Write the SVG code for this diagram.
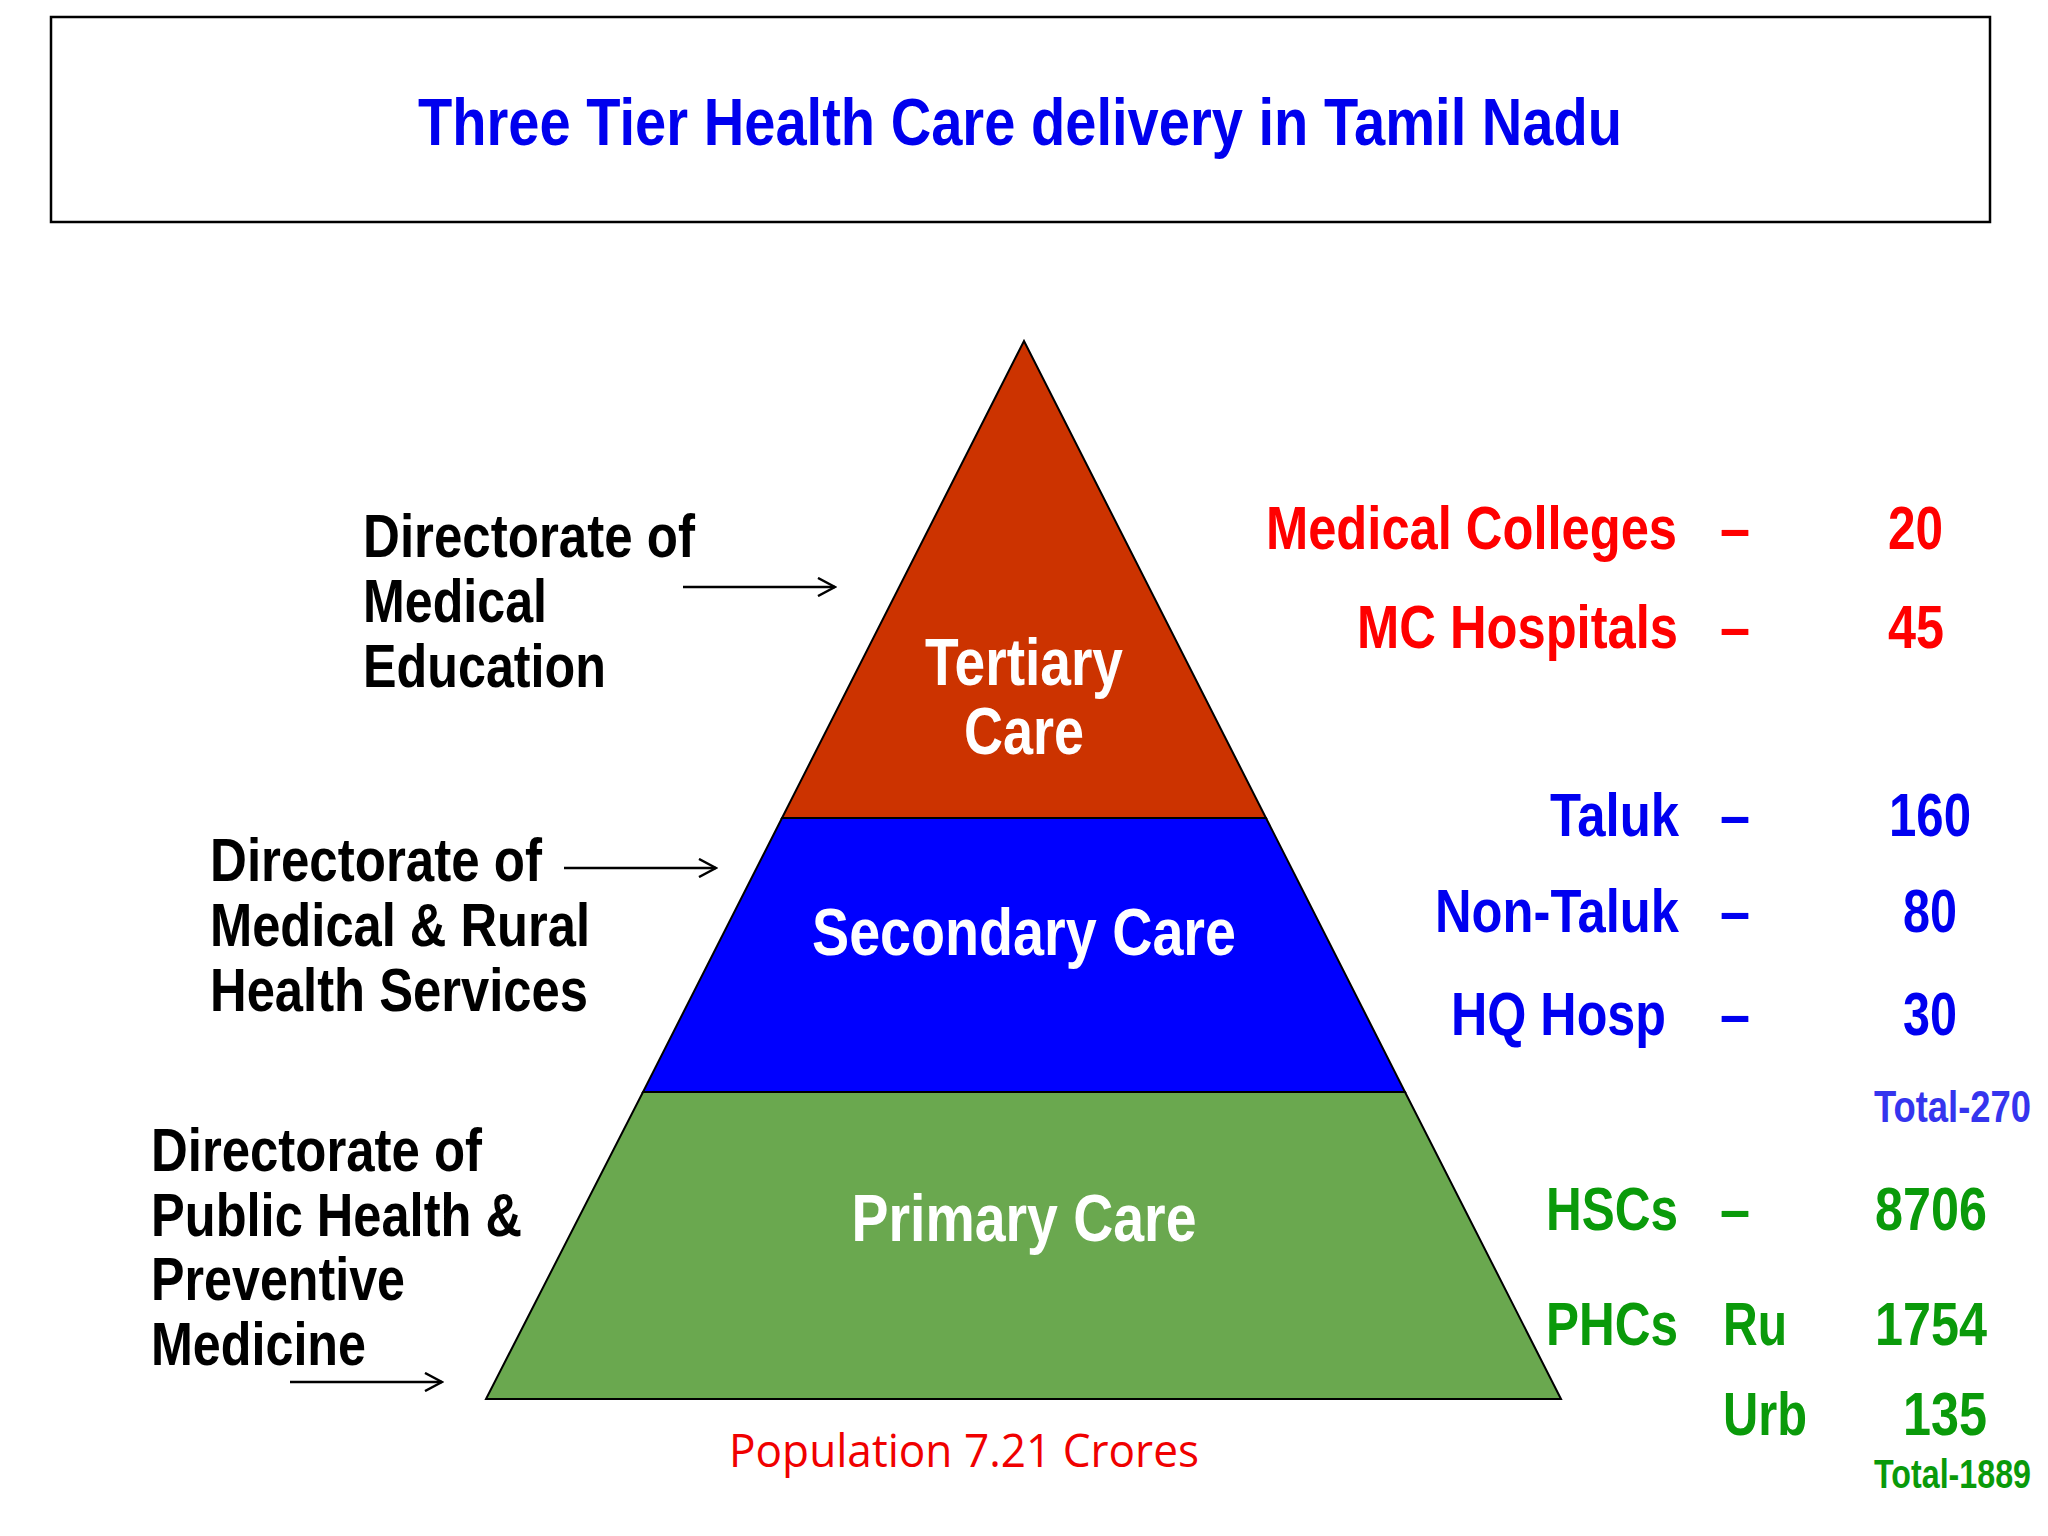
<svg xmlns="http://www.w3.org/2000/svg" width="2048" height="1536" viewBox="0 0 2048 1536">
<style>
.b{font-family:'Liberation Sans Narrow','Liberation Sans',Arial,sans-serif;font-weight:bold;}
.lbl{font-size:62px;fill:#000;}
.tier{font-size:66px;fill:#fff;text-anchor:middle;}
.red{font-size:62px;fill:#FF0000;}
.blue{font-size:62px;fill:#0000F0;}
.green{font-size:62px;fill:#0A9A0A;}
.arrow{stroke:#000;stroke-width:2.5;fill:none;}
</style>
<defs>
<marker id="ah" markerWidth="20" markerHeight="20" refX="18" refY="10" orient="auto" markerUnits="userSpaceOnUse">
<path d="M1,1 L18,10 L1,19" fill="none" stroke="#000" stroke-width="2.5"/>
</marker>
</defs>
<rect width="2048" height="1536" fill="#fff"/>
<g id="title">
<rect x="51" y="17" width="1939" height="205" fill="#fff" stroke="#000" stroke-width="2.5"/>
<text class="b" x="418" y="145" font-size="67" fill="#0000EE" textLength="1204" lengthAdjust="spacingAndGlyphs">Three Tier Health Care delivery in Tamil Nadu</text>
</g>
<g id="tertiary">
<polygon points="1024,341 782,818 1266,818" fill="#CC3300" stroke="#000" stroke-width="2"/>
<text class="b tier" x="1024" y="685" textLength="198" lengthAdjust="spacingAndGlyphs">Tertiary</text>
<text class="b tier" x="1024" y="754" textLength="120" lengthAdjust="spacingAndGlyphs">Care</text>
</g>
<g id="secondary">
<polygon points="782,818 1266,818 1405,1092 643,1092" fill="#0000FF" stroke="#000" stroke-width="2"/>
<text class="b tier" x="1024" y="955" textLength="424" lengthAdjust="spacingAndGlyphs">Secondary Care</text>
</g>
<g id="primary">
<polygon points="643,1092 1405,1092 1561,1399 486,1399" fill="#6AA84F" stroke="#000" stroke-width="2"/>
<text class="b tier" x="1024" y="1241" textLength="345" lengthAdjust="spacingAndGlyphs">Primary Care</text>
</g>
<g id="dme">
<text class="b lbl" x="363" y="557" textLength="332" lengthAdjust="spacingAndGlyphs">Directorate of</text>
<text class="b lbl" x="363" y="622" textLength="184" lengthAdjust="spacingAndGlyphs">Medical</text>
<text class="b lbl" x="363" y="687" textLength="243" lengthAdjust="spacingAndGlyphs">Education</text>
</g>
<g id="dmrhs">
<text class="b lbl" x="210" y="881" textLength="332" lengthAdjust="spacingAndGlyphs">Directorate of</text>
<text class="b lbl" x="210" y="946" textLength="380" lengthAdjust="spacingAndGlyphs">Medical &amp; Rural</text>
<text class="b lbl" x="210" y="1011" textLength="378" lengthAdjust="spacingAndGlyphs">Health Services</text>
</g>
<g id="dphpm">
<text class="b lbl" x="151" y="1171" textLength="331" lengthAdjust="spacingAndGlyphs">Directorate of</text>
<text class="b lbl" x="151" y="1236" textLength="371" lengthAdjust="spacingAndGlyphs">Public Health &amp;</text>
<text class="b lbl" x="151" y="1300" textLength="254" lengthAdjust="spacingAndGlyphs">Preventive</text>
<text class="b lbl" x="151" y="1365" textLength="215" lengthAdjust="spacingAndGlyphs">Medicine</text>
</g>
<g id="connectors">
<line class="arrow" x1="683" y1="587" x2="835" y2="587" marker-end="url(#ah)"/>
<line class="arrow" x1="564" y1="868" x2="716" y2="868" marker-end="url(#ah)"/>
<line class="arrow" x1="290" y1="1382" x2="442" y2="1382" marker-end="url(#ah)"/>
</g>
<g id="population">
<text x="729" y="1467" font-family="'Open Sans','Liberation Sans',sans-serif" font-size="45" fill="#F00000" textLength="470" lengthAdjust="spacingAndGlyphs">Population 7.21 Crores</text>
</g>
<g id="tertiary-stats">
<text class="b red" x="1266" y="549" textLength="411" lengthAdjust="spacingAndGlyphs">Medical Colleges</text>
<text class="b red" x="1720" y="549" textLength="30" lengthAdjust="spacingAndGlyphs">–</text>
<text class="b red" x="1888" y="549" textLength="55" lengthAdjust="spacingAndGlyphs">20</text>
<text class="b red" x="1357" y="648" textLength="321" lengthAdjust="spacingAndGlyphs">MC Hospitals</text>
<text class="b red" x="1720" y="648" textLength="30" lengthAdjust="spacingAndGlyphs">–</text>
<text class="b red" x="1888" y="648" textLength="56" lengthAdjust="spacingAndGlyphs">45</text>
</g>
<g id="secondary-stats">
<text class="b blue" x="1550" y="836" textLength="129" lengthAdjust="spacingAndGlyphs">Taluk</text>
<text class="b blue" x="1720" y="836" textLength="30" lengthAdjust="spacingAndGlyphs">–</text>
<text class="b blue" x="1889" y="836" textLength="82" lengthAdjust="spacingAndGlyphs">160</text>
<text class="b blue" x="1435" y="932" textLength="244" lengthAdjust="spacingAndGlyphs">Non-Taluk</text>
<text class="b blue" x="1720" y="932" textLength="30" lengthAdjust="spacingAndGlyphs">–</text>
<text class="b blue" x="1903" y="932" textLength="54" lengthAdjust="spacingAndGlyphs">80</text>
<text class="b blue" x="1451" y="1035" textLength="215" lengthAdjust="spacingAndGlyphs">HQ Hosp</text>
<text class="b blue" x="1720" y="1035" textLength="30" lengthAdjust="spacingAndGlyphs">–</text>
<text class="b blue" x="1903" y="1035" textLength="54" lengthAdjust="spacingAndGlyphs">30</text>
<text class="b" x="1874" y="1122" font-size="44" fill="#3535EE" textLength="157" lengthAdjust="spacingAndGlyphs">Total-270</text>
</g>
<g id="primary-stats">
<text class="b green" x="1546" y="1230" textLength="132" lengthAdjust="spacingAndGlyphs">HSCs</text>
<text class="b green" x="1720" y="1230" textLength="30" lengthAdjust="spacingAndGlyphs">–</text>
<text class="b green" x="1875" y="1230" textLength="112" lengthAdjust="spacingAndGlyphs">8706</text>
<text class="b green" x="1546" y="1345" textLength="132" lengthAdjust="spacingAndGlyphs">PHCs</text>
<text class="b green" x="1723" y="1345" textLength="64" lengthAdjust="spacingAndGlyphs">Ru</text>
<text class="b green" x="1875" y="1345" textLength="112" lengthAdjust="spacingAndGlyphs">1754</text>
<text class="b green" x="1723" y="1435" textLength="84" lengthAdjust="spacingAndGlyphs">Urb</text>
<text class="b green" x="1903" y="1435" textLength="84" lengthAdjust="spacingAndGlyphs">135</text>
<text class="b" x="1874" y="1488" font-size="40" fill="#0A9A0A" textLength="157" lengthAdjust="spacingAndGlyphs">Total-1889</text>
</g>
</svg>
